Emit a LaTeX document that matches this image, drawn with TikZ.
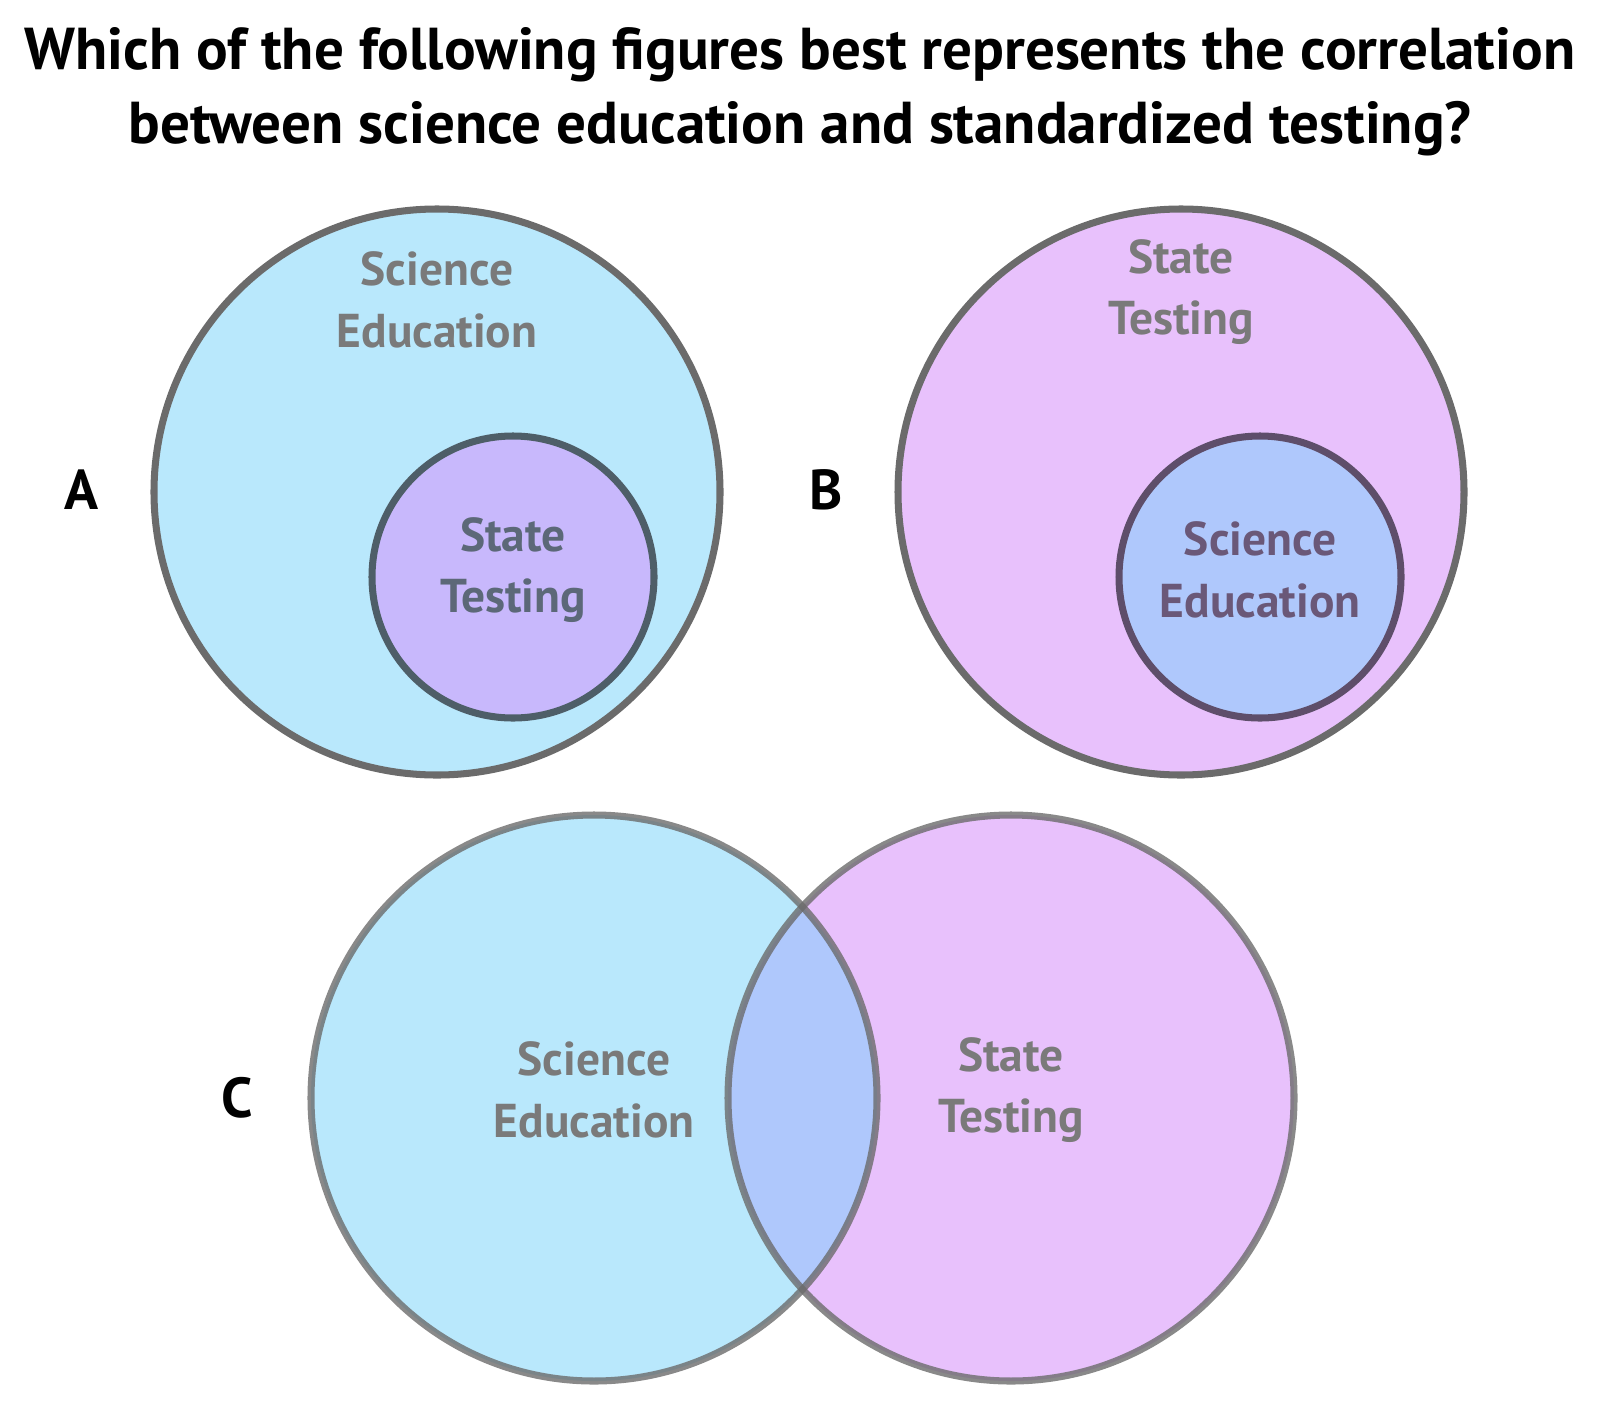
\documentclass[tikz,border=0pt]{standalone}
\usepackage{fontspec}
\setmainfont{PT Sans}
\begin{document}
\begin{tikzpicture}[x=0.01cm,y=-0.01cm,
  ring/.style={draw=black!58,line width=2pt},
  lab/.style={font=\bfseries\fontsize{13.5}{17.5}\selectfont,text=black!52,align=center},
  letter/.style={font=\bfseries\fontsize{16}{18}\selectfont}]
\definecolor{cy}{HTML}{B9E8FC}
\definecolor{pk}{HTML}{E8C1FC}
\definecolor{vi}{HTML}{C8B8FC}
\definecolor{bl}{HTML}{AFC8FC}
\definecolor{ta}{HTML}{5C6878}
\definecolor{tb}{HTML}{6A5878}
\definecolor{ra}{HTML}{4E5E68}
\definecolor{rb}{HTML}{5E4E6A}
\useasboundingbox (0,0) rectangle (1600,1412);
\node[font=\bfseries\fontsize{16.8}{21}\selectfont,align=center] (title) at (800,92)
 {Which of the following figures best represents the correlation\\between science education and standardized testing?};
% A
\fill[cy] (437,492) circle (283);
\fill[vi] (513,577) circle (141);
\draw[ring] (437,492) circle (283);
\draw[ring,draw=ra] (513,577) circle (141);
\node[lab] (a1) at (437,300) {Science\\Education};
\node[lab,text=ta] (a2) at (513,570) {State\\Testing};
\node[letter] (A) at (82,490) {A};
% B
\fill[pk] (1181,492) circle (283);
\fill[bl] (1260,577) circle (141);
\draw[ring] (1181,492) circle (283);
\draw[ring,draw=rb] (1260,577) circle (141);
\node[lab] (b1) at (1181,292) {State\\Testing};
\node[lab,text=tb] (b2) at (1260,570) {Science\\Education};
\node[letter] (B) at (826,490) {B};
% C
\fill[cy] (594,1098) circle (283);
\fill[pk] (1011,1098) circle (283);
\begin{scope}
\clip (594,1098) circle (283);
\fill[bl] (1011,1098) circle (283);
\end{scope}
\draw[ring,draw opacity=0.8] (594,1098) circle (283);
\draw[ring,draw opacity=0.8] (1011,1098) circle (283);
\node[lab] (c1) at (594,1090) {Science\\Education};
\node[lab] (c2) at (1011,1090) {State\\Testing};
\node[letter] (C) at (237,1098) {C};
\end{tikzpicture}
\end{document}
